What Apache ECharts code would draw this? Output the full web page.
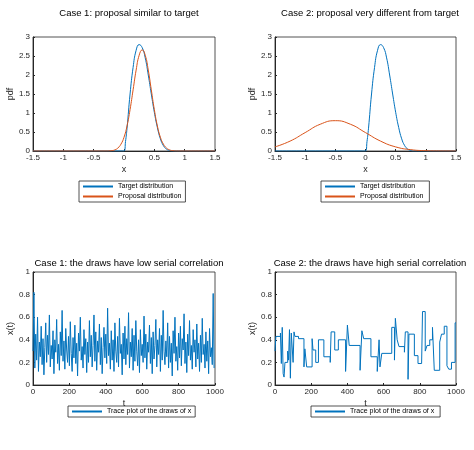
<!DOCTYPE html>
<html>
<head>
<meta charset="utf-8">
<script src="https://cdn.jsdelivr.net/npm/echarts@6/dist/echarts.min.js"></script>
<style>html,body{margin:0;padding:0;background:#fff;}#main{width:474px;height:450px;}</style>
</head>
<body>
<div id="main"></div>
<script>
// pdf curves
var targetPdf = [[-1.5,0],[-0.05,0],[0,0],[0.025,0.25],[0.05,0.6],[0.1,1.5],[0.15,2.2],[0.2,2.65],[0.25,2.8],[0.3,2.72],[0.35,2.45],[0.4,2.0],[0.45,1.5],[0.5,1.02],[0.55,0.62],[0.6,0.32],[0.65,0.14],[0.7,0.05],[0.75,0.015],[0.8,0],[1.5,0]];
var proposal1 = [[-1.5,0],[-0.3,0],[-0.2,0.01],[-0.15,0.03],[-0.1,0.08],[-0.05,0.18],[0,0.36],[0.05,0.66],[0.1,1.09],[0.15,1.61],[0.2,2.13],[0.25,2.52],[0.3,2.66],[0.35,2.52],[0.4,2.13],[0.45,1.61],[0.5,1.09],[0.55,0.66],[0.6,0.36],[0.65,0.18],[0.7,0.08],[0.75,0.03],[0.8,0.01],[0.9,0],[1.5,0]];
var proposal2 = [[-1.5,0.108],[-1.25,0.26],[-1,0.484],[-0.75,0.704],[-0.5,0.798],[-0.25,0.704],[0,0.484],[0.25,0.26],[0.5,0.108],[0.75,0.035],[1,0.009],[1.25,0.002],[1.5,0]];
// trace, case 1: one value every 5 draws
var trace1 = [0.3,0.82,0.15,0.45,0.22,0.6,0.12,0.38,0.25,0.52,0.18,0.41,0.09,0.33,0.55,0.2,0.44,0.27,0.62,0.16,
0.35,0.23,0.48,0.1,0.4,0.29,0.58,0.19,0.36,0.13,0.47,0.26,0.66,0.21,0.39,0.14,0.5,0.31,0.2,0.43,
0.17,0.56,0.28,0.12,0.42,0.24,0.53,0.19,0.37,0.08,0.46,0.3,0.6,0.22,0.34,0.15,0.49,0.27,0.41,0.11,
0.38,0.2,0.57,0.25,0.44,0.16,0.35,0.62,0.21,0.47,0.13,0.39,0.29,0.54,0.18,0.42,0.1,0.33,0.51,0.24,
0.45,0.19,0.68,0.26,0.37,0.14,0.48,0.22,0.4,0.12,0.55,0.3,0.2,0.43,0.16,0.59,0.28,0.36,0.09,0.46,
0.23,0.52,0.18,0.41,0.27,0.64,0.15,0.38,0.25,0.5,0.13,0.44,0.21,0.57,0.3,0.17,0.4,0.11,0.49,0.26,
0.36,0.2,0.61,0.24,0.45,0.14,0.38,0.29,0.53,0.19,0.42,0.1,0.47,0.23,0.35,0.58,0.16,0.4,0.27,0.5,
0.12,0.44,0.22,0.66,0.3,0.18,0.39,0.25,0.55,0.15,0.43,0.2,0.37,0.08,0.48,0.28,0.6,0.21,0.34,0.13,
0.46,0.24,0.52,0.17,0.41,0.31,0.63,0.19,0.38,0.11,0.45,0.26,0.57,0.22,0.35,0.14,0.49,0.29,0.4,0.16,
0.54,0.23,0.37,0.12,0.44,0.2,0.59,0.27,0.36,0.15,0.47,0.21,0.39,0.1,0.5,0.25,0.33,0.18,0.81,0.15];
// trace, case 2: step changes [t, value]
var trace2 = [[0,0.3],[5,0.43],[30,0.46],[35,0.19],[40,0.51],[45,0.1],[50,0.07],[55,0.2],[70,0.3],[75,0.22],[80,0.49],[85,0.06],[90,0.46],[100,0.2],[105,0.47],[110,0.43],[130,0.41],[160,0.16],[165,0.32],[175,0.16],[205,0.41],[210,0.31],[225,0.2],[240,0.4],[270,0.25],[305,0.2],[310,0.47],[330,0.31],[350,0.4],[390,0.12],[400,0.53],[410,0.35],[470,0.13],[480,0.48],[490,0.41],[530,0.25],[565,0.12],[575,0.4],[580,0.16],[590,0.28],[645,0.51],[660,0.22],[665,0.59],[675,0.4],[685,0.34],[715,0.29],[720,0.47],[735,0.05],[740,0.45],[770,0.26],[790,0.19],[810,0.2],[815,0.65],[830,0.3],[840,0.35],[855,0.4],[870,0.51],[880,0.13],[910,0.38],[920,0.45],[935,0.52],[950,0.17],[960,0.14],[975,0.2],[995,0.55],[1000,0.55]];

var trace1Pts = trace1.map(function (v, i) { return [i * 5, v]; });
var blue = '#0072BD', red = '#D95319';
var font = 'Liberation Sans, Arial, sans-serif';

var grids = [
	{left: 33, top: 37, width: 182, height: 114},
	{left: 275, top: 37, width: 181, height: 114},
	{left: 33, top: 272, width: 182, height: 113},
	{left: 275, top: 272, width: 181, height: 113}
];
function plain(v) { return String(v); }
function xAx(i, min, max, itv, name) {
	return {gridIndex: i, type: 'value', min: min, max: max, interval: itv, name: name,
		nameLocation: 'middle', nameGap: 14, nameTextStyle: {fontSize: 9, color: '#262626', fontFamily: font},
		axisLine: {onZero: false, lineStyle: {color: '#262626'}}, axisTick: {inside: true, length: 2, lineStyle: {color: '#262626'}},
		axisLabel: {fontSize: 8, color: '#262626', margin: 3, fontFamily: font, formatter: plain}, splitLine: {show: false}};
}
function yAx(i, min, max, itv, name) {
	return {gridIndex: i, type: 'value', min: min, max: max, interval: itv, name: name,
		nameLocation: 'middle', nameGap: 18, nameTextStyle: {fontSize: 9, color: '#262626', fontFamily: font},
		axisLine: {show: true, onZero: false, lineStyle: {color: '#262626'}}, axisTick: {inside: true, length: 2, lineStyle: {color: '#262626'}},
		axisLabel: {fontSize: 8, color: '#262626', margin: 3, fontFamily: font, formatter: plain}, splitLine: {show: false}};
}
function line(name, xi, data, color, extra) {
	var s = {name: name, type: 'line', xAxisIndex: xi, yAxisIndex: xi, data: data, showSymbol: false,
		lineStyle: {color: color, width: 1}, itemStyle: {color: color}};
	for (var k in extra) s[k] = extra[k];
	return s;
}
function legend(left, top, names) {
	return {left: left, top: top, orient: 'vertical', itemWidth: 30, itemHeight: 2, itemGap: 3,
		icon: 'rect', data: names, borderColor: '#262626', borderWidth: 0.8, padding: [2, 4], borderRadius: 0,
		textStyle: {fontSize: 7, color: '#000', fontFamily: font}};
}
var titleStyle = {fontSize: 9.5, fontWeight: 'normal', color: '#000', fontFamily: font};

var myChart = echarts.init(document.getElementById('main'));
myChart.setOption({
	animation: false,
	title: [
		{text: 'Case 1: proposal similar to target', left: 124, top: 3, textAlign: 'center', textStyle: titleStyle},
		{text: 'Case 2: proposal very different from target', left: 365, top: 3, textAlign: 'center', textStyle: titleStyle},
		{text: 'Case 1: the draws have low serial correlation', left: 124, top: 253, textAlign: 'center', textStyle: titleStyle},
		{text: 'Case 2: the draws have high serial correlation', left: 365, top: 253, textAlign: 'center', textStyle: titleStyle}
	],
	legend: [
		legend(79, 181, ['Target distribution', 'Proposal distribution']),
		legend(321, 181, ['Target distribution ', 'Proposal distribution ']),
		legend(68, 406, ['Trace plot of the draws of x']),
		legend(311, 406, ['Trace plot of the draws of x '])
	],
	grid: grids.map(function (g) { g.show = true; g.borderColor = '#262626'; g.borderWidth = 0.8; return g; }),
	xAxis: [xAx(0, -1.5, 1.5, 0.5, 'x'), xAx(1, -1.5, 1.5, 0.5, 'x'), xAx(2, 0, 1000, 200, 't'), xAx(3, 0, 1000, 200, 't')],
	yAxis: [yAx(0, 0, 3, 0.5, 'pdf'), yAx(1, 0, 3, 0.5, 'pdf'), yAx(2, 0, 1, 0.2, 'x(t)'), yAx(3, 0, 1, 0.2, 'x(t)')],
	series: [
		line('Target distribution', 0, targetPdf, blue, {smooth: true}),
		line('Proposal distribution', 0, proposal1, red, {smooth: true}),
		line('Target distribution ', 1, targetPdf, blue, {smooth: true}),
		line('Proposal distribution ', 1, proposal2, red, {smooth: true}),
		line('Trace plot of the draws of x', 2, trace1Pts, blue, {}),
		line('Trace plot of the draws of x ', 3, trace2, blue, {step: 'end'})
	]
});
</script>
</body>
</html>
